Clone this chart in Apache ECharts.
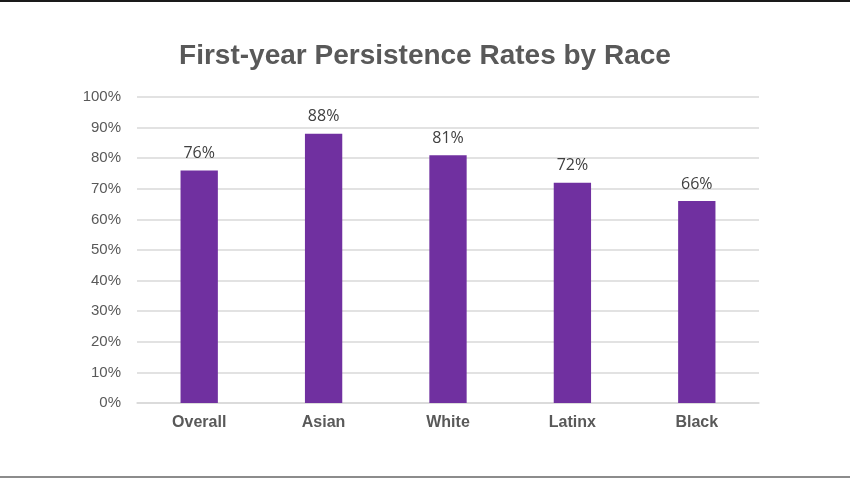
<!DOCTYPE html>
<html><head><meta charset="utf-8">
<script src="https://cdn.jsdelivr.net/npm/echarts@6/dist/echarts.min.js"></script>
<style>
html,body{margin:0;padding:0;background:#fff;}
#c{width:850px;height:478px;box-sizing:border-box;border-top:2px solid #1a1a1a;border-bottom:2px solid #8c8c8c;}
</style></head>
<body><div id="c"></div>
<script>
const categories = ['Overall','Asian','White','Latinx','Black'];
const values = [76, 88, 81, 72, 66];
const yTicks = [0,10,20,30,40,50,60,70,80,90,100];

const chart = echarts.init(document.getElementById('c'));
chart.setOption({
  animation:false,
  title:{text:'First-year Persistence Rates by Race',left:'center',top:35,
    textStyle:{fontFamily:'Liberation Sans, Arial',fontWeight:'bold',fontSize:28,color:'#595959'}},
  grid:{left:137,right:91,top:95,bottom:73},
  xAxis:{type:'category',data:categories,
    axisLine:{lineStyle:{color:'#d9d9d9',width:1.5}},axisTick:{show:false},
    axisLabel:{fontFamily:'Liberation Sans, Arial',fontWeight:'bold',fontSize:16,color:'#595959',margin:12}},
  yAxis:{type:'value',min:0,max:100,interval:10,
    axisLabel:{formatter:v=>v+'%',fontFamily:'Liberation Sans, Arial',fontSize:15,color:'#595959',margin:16},
    splitLine:{lineStyle:{color:'#d9d9d9',width:1.5}},axisLine:{show:false},axisTick:{show:false}},
  series:[{type:'bar',data:values,barWidth:'30%',
    itemStyle:{color:'#7030A0'},
    label:{show:true,position:'top',formatter:p=>p.value+'%',distance:9,
      fontFamily:'Open Sans, Liberation Sans',fontSize:16,color:'#404040'}}]
});
</script></body></html>
